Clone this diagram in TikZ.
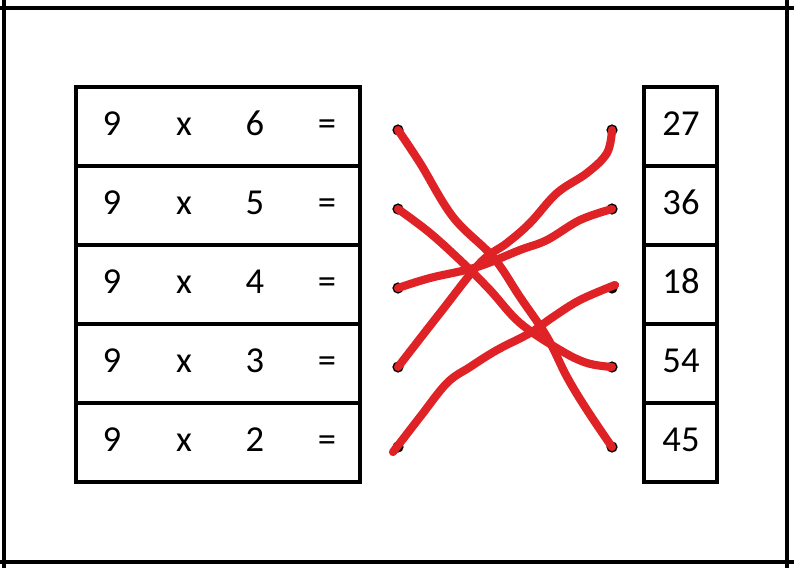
\documentclass[tikz,border=0pt]{standalone}
\usepackage{fontspec}
\setmainfont{Carlito}
\definecolor{penRed}{HTML}{DE2226}

\begin{document}
\begin{tikzpicture}[x=0.025cm,y=-0.025cm,
    frame/.style={black, line width=2.2pt},
    box/.style={black, line width=2.4pt},
    sum/.style={font=\fontsize{26}{30}\selectfont, inner sep=0pt, anchor=base},
    pin/.style={circle, fill=black, inner sep=0pt, minimum size=8pt},
    pen/.style={penRed, line width=5.8pt, line cap=round, line join=round}]
    \useasboundingbox (0,0) rectangle (794,568);

    % page edges
    \draw[frame] (0,8) -- (794,8);
    \draw[frame] (0,562) -- (794,562);
    \draw[frame] (4,0) -- (4,568);
    \draw[frame] (787,0) -- (787,568);

    % left table with the sums
    \foreach \n/\b [count=\i] in {6/87,5/166,4/245,3/324,2/403} {
        \draw[box] (76,\b) rectangle (360,\b+79);
        \node[sum] (nine\i) at (112,\b+48) {9};
        \node[sum] (times\i) at (184,\b+48) {x};
        \node[sum] (num\i) at (255,\b+48) {\n};
        \node[sum] (eq\i) at (327,\b+48) {=};
    }

    % right table with the answers
    \foreach \a/\b [count=\i] in {27/87,36/166,18/245,54/324,45/403} {
        \draw[box] (644,\b) rectangle (717,\b+79);
        \node[sum] (ans\i) at (681,\b+48) {\a};
    }

    % pins
    \foreach \y [count=\i] in {130,209,288,367,447} {
        \node[pin] (l\i) at (398,\y) {};
        \node[pin] (r\i) at (612,\y) {};
    }

    % pen strokes
    \draw[pen] plot[smooth, tension=0.6] coordinates {(l1) (420,163) (453,217) (493,257) (520,297) (547,337) (567,377) (587,410) (r5)};
    \draw[pen] plot[smooth, tension=0.6] coordinates {(l2) (430,233) (463,263) (490,290) (520,323) (560,350) (587,363) (r4)};
    \draw[pen] plot[smooth, tension=0.6] coordinates {(l3) (430,278) (477,267) (520,250) (547,240) (580,220) (r2)};
    \draw[pen] plot[smooth, tension=0.6] coordinates {(l4) (440,313) (480,263) (507,243) (530,223) (557,193) (587,173) (607,153) (r1)};
    \draw[pen] plot[smooth, tension=0.6] coordinates {(393,452) (420,417) (447,383) (470,367) (497,350) (530,333) (553,317) (580,300) (615,285)};
\end{tikzpicture}
\end{document}
